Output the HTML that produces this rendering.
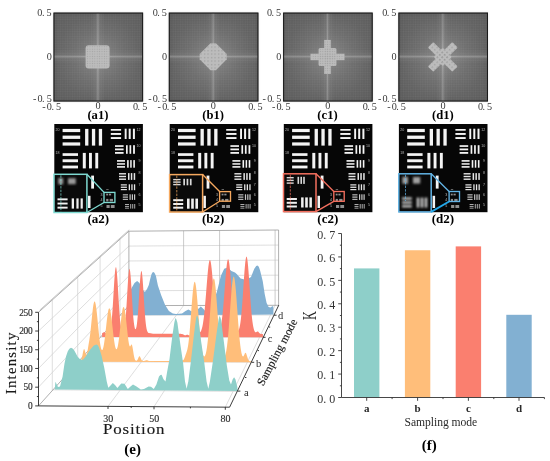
<!DOCTYPE html>
<html><head><meta charset="utf-8"><title>Figure</title>
<style>
html,body{margin:0;padding:0;background:#fff;}
body{width:550px;height:461px;overflow:hidden;}
svg{display:block;font-family:"Liberation Serif",serif;}
</style></head><body>
<svg width="550" height="461" viewBox="0 0 550 461">
<rect width="550" height="461" fill="#fff"/>
<defs>
<radialGradient id="bg" cx="50%" cy="50%" r="72%">
<stop offset="0" stop-color="#878787"/><stop offset="0.2" stop-color="#7a7a7a"/><stop offset="0.4" stop-color="#6e6e6e"/><stop offset="0.65" stop-color="#636363"/><stop offset="1" stop-color="#5b5b5b"/>
</radialGradient>
<linearGradient id="hl" x1="0" x2="1" y1="0" y2="0">
<stop offset="0" stop-color="#a0a0a0" stop-opacity="0.2"/><stop offset="0.3" stop-color="#b0b0b0" stop-opacity="0.42"/><stop offset="0.5" stop-color="#c8c8c8" stop-opacity="0.8"/><stop offset="0.7" stop-color="#b0b0b0" stop-opacity="0.42"/><stop offset="1" stop-color="#a0a0a0" stop-opacity="0.2"/>
</linearGradient>
<linearGradient id="vl" x1="0" x2="0" y1="0" y2="1">
<stop offset="0" stop-color="#a0a0a0" stop-opacity="0.2"/><stop offset="0.3" stop-color="#b0b0b0" stop-opacity="0.42"/><stop offset="0.5" stop-color="#c8c8c8" stop-opacity="0.8"/><stop offset="0.7" stop-color="#b0b0b0" stop-opacity="0.42"/><stop offset="1" stop-color="#a0a0a0" stop-opacity="0.2"/>
</linearGradient>
<linearGradient id="hg" x1="0" x2="0" y1="0" y2="1">
<stop offset="0" stop-color="#a0a0a0" stop-opacity="0"/><stop offset="0.5" stop-color="#a0a0a0" stop-opacity="0.4"/><stop offset="1" stop-color="#a0a0a0" stop-opacity="0"/>
</linearGradient>
<linearGradient id="vg" x1="0" x2="1" y1="0" y2="0">
<stop offset="0" stop-color="#a0a0a0" stop-opacity="0"/><stop offset="0.5" stop-color="#a0a0a0" stop-opacity="0.4"/><stop offset="1" stop-color="#a0a0a0" stop-opacity="0"/>
</linearGradient>
<pattern id="tex" x="0" y="0" width="2.4" height="2.4" patternUnits="userSpaceOnUse">
<rect x="0" y="0" width="2.4" height="0.8" fill="#fff" opacity="0.03"/><rect x="0" y="0" width="0.8" height="2.4" fill="#fff" opacity="0.03"/>
</pattern>
<pattern id="dots" x="0" y="0" width="2.4" height="2.4" patternUnits="userSpaceOnUse">
<rect x="0.7" y="0.7" width="1" height="1" fill="#969696"/>
</pattern>
<pattern id="dots2" x="0" y="0" width="3.5" height="3.5" patternUnits="userSpaceOnUse">
<rect x="1.0" y="1.0" width="1.2" height="1.2" fill="#888"/>
</pattern>
<filter id="blur1" x="-20%" y="-20%" width="140%" height="140%"><feGaussianBlur stdDeviation="0.45"/></filter>
<filter id="blur2" x="-20%" y="-20%" width="140%" height="140%"><feGaussianBlur stdDeviation="0.8"/></filter>
<filter id="blur3" x="-5%" y="-5%" width="110%" height="110%"><feGaussianBlur stdDeviation="0.3"/></filter>
</defs>
<g>
<rect x="53.50" y="12.60" width="89.60" height="88.90" fill="url(#bg)"/>
<rect x="53.50" y="12.60" width="89.60" height="88.90" fill="url(#tex)"/>
<rect x="54.50" y="13.60" width="87.60" height="86.90" fill="none" stroke="#3c3c3c" stroke-width="2" opacity="0.15" filter="url(#blur2)"/>
<rect x="53.50" y="49.65" width="89.60" height="14" fill="url(#hg)" opacity="0.5"/>
<rect x="90.90" y="12.60" width="14" height="88.90" fill="url(#vg)" opacity="0.5"/>
<rect x="53.50" y="54.65" width="89.60" height="4" fill="url(#hg)"/>
<rect x="95.90" y="12.60" width="4" height="88.90" fill="url(#vg)"/>
<rect x="53.50" y="56.15" width="89.60" height="1" fill="url(#hl)"/>
<rect x="97.40" y="12.60" width="1" height="88.90" fill="url(#vl)"/>
<g fill="#bcbcbc" filter="url(#blur3)"><rect x="85.60" y="45.25" width="24.0" height="23.2" rx="3.2" ry="3.2"/></g>
<g fill="url(#dots)" opacity="0.65"><rect x="85.60" y="45.25" width="24.0" height="23.2" rx="3.2" ry="3.2"/></g>
<rect x="54.00" y="13.10" width="88.60" height="87.90" fill="none" stroke="#1a1a1a" stroke-width="1"/>
<text x="37.35 41.90 46.45" y="15.90" font-size="10.20" fill="#383838" >0.5</text>
<text x="46.65" y="60.15" font-size="10.20" fill="#383838" >0</text>
<text x="33.00 37.55 42.10 46.65" y="102.10" font-size="10.20" fill="#383838" >-0.5</text>
<text x="42.30 46.85 51.40 55.95" y="110.00" font-size="10.20" fill="#383838" >-0.5</text>
<text x="95.52" y="108.90" font-size="10.20" fill="#383838" >0</text>
<text x="133.05 137.60 142.15" y="110.00" font-size="10.20" fill="#383838" >0.5</text>
<text x="97.90" y="118.7" font-size="12.6" font-weight="bold" fill="#000" text-anchor="middle">(a1)</text>
</g>
<g>
<rect x="168.80" y="12.60" width="89.60" height="88.90" fill="url(#bg)"/>
<rect x="168.80" y="12.60" width="89.60" height="88.90" fill="url(#tex)"/>
<rect x="169.80" y="13.60" width="87.60" height="86.90" fill="none" stroke="#3c3c3c" stroke-width="2" opacity="0.15" filter="url(#blur2)"/>
<rect x="168.80" y="49.65" width="89.60" height="14" fill="url(#hg)" opacity="0.5"/>
<rect x="206.20" y="12.60" width="14" height="88.90" fill="url(#vg)" opacity="0.5"/>
<rect x="168.80" y="54.65" width="89.60" height="4" fill="url(#hg)"/>
<rect x="211.20" y="12.60" width="4" height="88.90" fill="url(#vg)"/>
<rect x="168.80" y="56.15" width="89.60" height="1" fill="url(#hl)"/>
<rect x="212.70" y="12.60" width="1" height="88.90" fill="url(#vl)"/>
<g fill="#bcbcbc" filter="url(#blur3)"><polygon points="199.70,53.95 210.50,43.15 215.90,43.15 226.70,53.95 226.70,59.35 215.90,70.15 210.50,70.15 199.70,59.35"/></g>
<g fill="url(#dots2)" opacity="0.65"><polygon points="199.70,53.95 210.50,43.15 215.90,43.15 226.70,53.95 226.70,59.35 215.90,70.15 210.50,70.15 199.70,59.35"/></g>
<rect x="169.30" y="13.10" width="88.60" height="87.90" fill="none" stroke="#1a1a1a" stroke-width="1"/>
<text x="152.65 157.20 161.75" y="15.90" font-size="10.20" fill="#383838" >0.5</text>
<text x="161.95" y="60.15" font-size="10.20" fill="#383838" >0</text>
<text x="148.30 152.85 157.40 161.95" y="102.10" font-size="10.20" fill="#383838" >-0.5</text>
<text x="157.60 162.15 166.70 171.25" y="110.00" font-size="10.20" fill="#383838" >-0.5</text>
<text x="210.83" y="108.90" font-size="10.20" fill="#383838" >0</text>
<text x="248.35 252.90 257.45" y="110.00" font-size="10.20" fill="#383838" >0.5</text>
<text x="213.20" y="118.7" font-size="12.6" font-weight="bold" fill="#000" text-anchor="middle">(b1)</text>
</g>
<g>
<rect x="283.10" y="12.60" width="89.60" height="88.90" fill="url(#bg)"/>
<rect x="283.10" y="12.60" width="89.60" height="88.90" fill="url(#tex)"/>
<rect x="284.10" y="13.60" width="87.60" height="86.90" fill="none" stroke="#3c3c3c" stroke-width="2" opacity="0.15" filter="url(#blur2)"/>
<rect x="283.10" y="49.65" width="89.60" height="14" fill="url(#hg)" opacity="0.5"/>
<rect x="320.50" y="12.60" width="14" height="88.90" fill="url(#vg)" opacity="0.5"/>
<rect x="283.10" y="54.65" width="89.60" height="4" fill="url(#hg)"/>
<rect x="325.50" y="12.60" width="4" height="88.90" fill="url(#vg)"/>
<rect x="283.10" y="56.15" width="89.60" height="1" fill="url(#hl)"/>
<rect x="327.00" y="12.60" width="1" height="88.90" fill="url(#vl)"/>
<g fill="#bcbcbc" filter="url(#blur3)"><rect x="324.20" y="39.95" width="6.6" height="34"/><rect x="310.50" y="53.75" width="34" height="6.4"/><rect x="318.60" y="47.95" width="17.8" height="18" rx="1.5"/></g>
<g fill="url(#dots)" opacity="0.65"><rect x="324.20" y="39.95" width="6.6" height="34"/><rect x="310.50" y="53.75" width="34" height="6.4"/><rect x="318.60" y="47.95" width="17.8" height="18" rx="1.5"/></g>
<rect x="283.60" y="13.10" width="88.60" height="87.90" fill="none" stroke="#1a1a1a" stroke-width="1"/>
<text x="266.95 271.50 276.05" y="15.90" font-size="10.20" fill="#383838" >0.5</text>
<text x="276.25" y="60.15" font-size="10.20" fill="#383838" >0</text>
<text x="262.60 267.15 271.70 276.25" y="102.10" font-size="10.20" fill="#383838" >-0.5</text>
<text x="271.90 276.45 281.00 285.55" y="110.00" font-size="10.20" fill="#383838" >-0.5</text>
<text x="325.13" y="108.90" font-size="10.20" fill="#383838" >0</text>
<text x="362.65 367.20 371.75" y="110.00" font-size="10.20" fill="#383838" >0.5</text>
<text x="327.50" y="118.7" font-size="12.6" font-weight="bold" fill="#000" text-anchor="middle">(c1)</text>
</g>
<g>
<rect x="398.40" y="12.60" width="89.60" height="88.90" fill="url(#bg)"/>
<rect x="398.40" y="12.60" width="89.60" height="88.90" fill="url(#tex)"/>
<rect x="399.40" y="13.60" width="87.60" height="86.90" fill="none" stroke="#3c3c3c" stroke-width="2" opacity="0.15" filter="url(#blur2)"/>
<rect x="398.40" y="49.65" width="89.60" height="14" fill="url(#hg)" opacity="0.5"/>
<rect x="435.80" y="12.60" width="14" height="88.90" fill="url(#vg)" opacity="0.5"/>
<rect x="398.40" y="54.65" width="89.60" height="4" fill="url(#hg)"/>
<rect x="440.80" y="12.60" width="4" height="88.90" fill="url(#vg)"/>
<rect x="398.40" y="56.15" width="89.60" height="1" fill="url(#hl)"/>
<rect x="442.30" y="12.60" width="1" height="88.90" fill="url(#vl)"/>
<g fill="#bcbcbc" filter="url(#blur3)"><g transform="rotate(45 442.80 56.95)"><rect x="439.00" y="39.75" width="7.6" height="34.4" rx="1"/><rect x="425.60" y="53.15" width="34.4" height="7.6" rx="1"/><rect x="436.30" y="50.45" width="13" height="13" rx="1.5"/></g></g>
<g fill="url(#dots2)" opacity="0.65"><g transform="rotate(45 442.80 56.95)"><rect x="439.00" y="39.75" width="7.6" height="34.4" rx="1"/><rect x="425.60" y="53.15" width="34.4" height="7.6" rx="1"/><rect x="436.30" y="50.45" width="13" height="13" rx="1.5"/></g></g>
<rect x="398.90" y="13.10" width="88.60" height="87.90" fill="none" stroke="#1a1a1a" stroke-width="1"/>
<text x="382.25 386.80 391.35" y="15.90" font-size="10.20" fill="#383838" >0.5</text>
<text x="391.55" y="60.15" font-size="10.20" fill="#383838" >0</text>
<text x="377.90 382.45 387.00 391.55" y="102.10" font-size="10.20" fill="#383838" >-0.5</text>
<text x="387.20 391.75 396.30 400.85" y="110.00" font-size="10.20" fill="#383838" >-0.5</text>
<text x="440.43" y="108.90" font-size="10.20" fill="#383838" >0</text>
<text x="477.95 482.50 487.05" y="110.00" font-size="10.20" fill="#383838" >0.5</text>
<text x="442.80" y="118.7" font-size="12.6" font-weight="bold" fill="#000" text-anchor="middle">(d1)</text>
</g>
<g transform="translate(0.00 0)"><rect x="54.3" y="124" width="88.6" height="88.2" fill="#060606"/><g fill="#f4f4f4" filter="url(#blur3)"><rect x="62.60" y="128.90" width="17.60" height="3.20"/><rect x="62.60" y="135.60" width="17.60" height="3.30"/><rect x="62.60" y="142.40" width="17.60" height="3.20"/><rect x="85.10" y="128.90" width="3.30" height="16.70"/><rect x="91.90" y="128.90" width="3.30" height="16.70"/><rect x="98.80" y="128.90" width="3.30" height="16.70"/><rect x="62.60" y="153.20" width="15.40" height="2.70"/><rect x="62.60" y="159.30" width="15.40" height="2.90"/><rect x="62.60" y="165.60" width="15.40" height="2.80"/><rect x="82.80" y="152.90" width="3.00" height="15.50"/><rect x="89.00" y="152.90" width="2.90" height="15.50"/><rect x="95.30" y="152.90" width="2.90" height="15.50"/><rect x="91.20" y="175.60" width="2.80" height="13.00"/><rect x="88.00" y="195.80" width="2.50" height="12.20"/><rect x="110.80" y="129.00" width="10.30" height="1.70"/><rect x="110.80" y="133.00" width="10.30" height="1.90"/><rect x="110.80" y="137.10" width="10.30" height="1.90"/><rect x="124.70" y="128.70" width="1.90" height="10.30"/><rect x="128.70" y="128.70" width="2.00" height="10.30"/><rect x="132.90" y="128.70" width="2.00" height="10.30"/><rect x="115.00" y="145.20" width="8.60" height="1.70"/><rect x="115.00" y="148.50" width="8.60" height="1.80"/><rect x="115.00" y="152.00" width="8.60" height="1.80"/><rect x="126.00" y="145.20" width="1.70" height="8.60"/><rect x="129.50" y="145.20" width="1.70" height="8.60"/><rect x="133.10" y="145.20" width="1.80" height="8.60"/><rect x="117.00" y="160.10" width="8.00" height="1.60"/><rect x="117.00" y="163.20" width="8.00" height="1.50"/><rect x="117.00" y="166.10" width="8.00" height="1.60"/><rect x="127.10" y="160.10" width="1.60" height="7.60"/><rect x="130.20" y="160.10" width="1.50" height="7.60"/><rect x="133.30" y="160.10" width="1.60" height="7.60"/></g><g fill="#e6e6e6" filter="url(#blur3)"><rect x="119.00" y="173.10" width="7.00" height="1.40"/><rect x="119.00" y="175.80" width="7.00" height="1.40"/><rect x="119.00" y="178.50" width="7.00" height="1.40"/><rect x="128.00" y="173.10" width="1.50" height="6.80"/><rect x="130.80" y="173.10" width="1.50" height="6.80"/><rect x="133.70" y="173.10" width="1.50" height="6.80"/><rect x="120.80" y="184.30" width="6.10" height="1.20"/><rect x="120.80" y="186.60" width="6.10" height="1.30"/><rect x="120.80" y="189.00" width="6.10" height="1.20"/><rect x="128.70" y="184.30" width="1.30" height="5.90"/><rect x="131.30" y="184.30" width="1.30" height="5.90"/><rect x="133.90" y="184.30" width="1.30" height="5.90"/></g><g fill="#c8c8c8" filter="url(#blur3)"><rect x="122.80" y="194.30" width="5.20" height="1.10"/><rect x="122.80" y="196.50" width="5.20" height="1.20"/><rect x="122.80" y="198.80" width="5.20" height="1.10"/><rect x="129.50" y="194.30" width="1.20" height="5.60"/><rect x="131.80" y="194.30" width="1.20" height="5.60"/><rect x="134.00" y="194.30" width="1.20" height="5.60"/></g><g fill="#acacac" filter="url(#blur3)"><rect x="125.00" y="204.00" width="4.00" height="1.00"/><rect x="125.00" y="205.90" width="4.00" height="1.00"/><rect x="125.00" y="207.70" width="4.00" height="0.90"/><rect x="130.20" y="204.00" width="1.00" height="4.60"/><rect x="132.20" y="204.00" width="1.00" height="4.60"/><rect x="134.20" y="204.00" width="1.00" height="4.60"/></g><g fill="#8e8e8e" filter="url(#blur3)"><rect x="106.5" y="205.0" width="3.2" height="3"/><rect x="110.8" y="205.0" width="3.8" height="3"/><rect x="106.2" y="193.7" width="1.9" height="1.7"/><rect x="108.9" y="193.7" width="2.2" height="1.7"/><rect x="106.2" y="198.9" width="2.2" height="2.5"/><rect x="109.7" y="198.9" width="3.3" height="2.5"/><rect x="106.2" y="189" width="2.4" height="0.7"/></g><g fill="#b4b4b4" font-size="3.6" font-family="Liberation Sans, sans-serif" text-anchor="middle" filter="url(#blur3)"><text x="57.6" y="130.6">20</text><text x="57.6" y="154.4">18</text><text x="138.6" y="130.6">12</text><text x="138.6" y="147.2">10</text><text x="139.4" y="161.6">9</text><text x="139.4" y="174.4">8</text><text x="139.4" y="185.6">7</text><text x="139.4" y="196.2">6</text><text x="139.4" y="205.8">5</text><text x="101.6" y="195.6">3</text><text x="101.6" y="200.6">4</text><text x="101.6" y="206.6">5</text></g><rect x="54.00" y="174.30" width="32.90" height="38.20" fill="#0a0a0a"/><g fill="#9a9a9a" filter="url(#blur2)"><rect x="58.2" y="178" width="5" height="6.4"/><rect x="68" y="178.2" width="7.8" height="6"/></g><g fill="#f0f0f0" filter="url(#blur1)"><rect x="57.50" y="198.40" width="10.10" height="1.90"/><rect x="57.50" y="202.60" width="10.10" height="1.90"/><rect x="57.50" y="206.70" width="10.10" height="1.90"/><rect x="71.70" y="198.40" width="2.30" height="10.20"/><rect x="76.40" y="198.40" width="2.20" height="10.20"/><rect x="80.60" y="198.40" width="2.20" height="10.20"/></g><line x1="60.90" y1="175.30" x2="60.90" y2="211.50" stroke="#7FDAD2" stroke-width="0.8" stroke-dasharray="2.4 1.2" opacity="0.9"/><rect x="54.00" y="174.30" width="32.90" height="38.20" fill="none" stroke="#7FDAD2" stroke-width="1.50"/><rect x="104.00" y="192.40" width="10.90" height="10.10" fill="none" stroke="#7FDAD2" stroke-width="1.35"/><path d="M86.90 174.30 L104.00 192.40" stroke="#7FDAD2" stroke-width="1.35" fill="none"/><path d="M86.90 212.50 L104.00 202.50" stroke="#7FDAD2" stroke-width="1.35" fill="none"/><text x="98.30" y="223.4" font-size="13" font-weight="bold" fill="#000" text-anchor="middle">(a2)</text></g>
<g transform="translate(115.40 0)"><rect x="54.3" y="124" width="88.6" height="88.2" fill="#060606"/><g fill="#f4f4f4" filter="url(#blur3)"><rect x="62.60" y="128.90" width="17.60" height="3.20"/><rect x="62.60" y="135.60" width="17.60" height="3.30"/><rect x="62.60" y="142.40" width="17.60" height="3.20"/><rect x="85.10" y="128.90" width="3.30" height="16.70"/><rect x="91.90" y="128.90" width="3.30" height="16.70"/><rect x="98.80" y="128.90" width="3.30" height="16.70"/><rect x="62.60" y="153.20" width="15.40" height="2.70"/><rect x="62.60" y="159.30" width="15.40" height="2.90"/><rect x="62.60" y="165.60" width="15.40" height="2.80"/><rect x="82.80" y="152.90" width="3.00" height="15.50"/><rect x="89.00" y="152.90" width="2.90" height="15.50"/><rect x="95.30" y="152.90" width="2.90" height="15.50"/><rect x="91.20" y="175.60" width="2.80" height="13.00"/><rect x="88.00" y="195.80" width="2.50" height="12.20"/><rect x="110.80" y="129.00" width="10.30" height="1.70"/><rect x="110.80" y="133.00" width="10.30" height="1.90"/><rect x="110.80" y="137.10" width="10.30" height="1.90"/><rect x="124.70" y="128.70" width="1.90" height="10.30"/><rect x="128.70" y="128.70" width="2.00" height="10.30"/><rect x="132.90" y="128.70" width="2.00" height="10.30"/><rect x="115.00" y="145.20" width="8.60" height="1.70"/><rect x="115.00" y="148.50" width="8.60" height="1.80"/><rect x="115.00" y="152.00" width="8.60" height="1.80"/><rect x="126.00" y="145.20" width="1.70" height="8.60"/><rect x="129.50" y="145.20" width="1.70" height="8.60"/><rect x="133.10" y="145.20" width="1.80" height="8.60"/><rect x="117.00" y="160.10" width="8.00" height="1.60"/><rect x="117.00" y="163.20" width="8.00" height="1.50"/><rect x="117.00" y="166.10" width="8.00" height="1.60"/><rect x="127.10" y="160.10" width="1.60" height="7.60"/><rect x="130.20" y="160.10" width="1.50" height="7.60"/><rect x="133.30" y="160.10" width="1.60" height="7.60"/></g><g fill="#e6e6e6" filter="url(#blur3)"><rect x="119.00" y="173.10" width="7.00" height="1.40"/><rect x="119.00" y="175.80" width="7.00" height="1.40"/><rect x="119.00" y="178.50" width="7.00" height="1.40"/><rect x="128.00" y="173.10" width="1.50" height="6.80"/><rect x="130.80" y="173.10" width="1.50" height="6.80"/><rect x="133.70" y="173.10" width="1.50" height="6.80"/><rect x="120.80" y="184.30" width="6.10" height="1.20"/><rect x="120.80" y="186.60" width="6.10" height="1.30"/><rect x="120.80" y="189.00" width="6.10" height="1.20"/><rect x="128.70" y="184.30" width="1.30" height="5.90"/><rect x="131.30" y="184.30" width="1.30" height="5.90"/><rect x="133.90" y="184.30" width="1.30" height="5.90"/></g><g fill="#c8c8c8" filter="url(#blur3)"><rect x="122.80" y="194.30" width="5.20" height="1.10"/><rect x="122.80" y="196.50" width="5.20" height="1.20"/><rect x="122.80" y="198.80" width="5.20" height="1.10"/><rect x="129.50" y="194.30" width="1.20" height="5.60"/><rect x="131.80" y="194.30" width="1.20" height="5.60"/><rect x="134.00" y="194.30" width="1.20" height="5.60"/></g><g fill="#acacac" filter="url(#blur3)"><rect x="125.00" y="204.00" width="4.00" height="1.00"/><rect x="125.00" y="205.90" width="4.00" height="1.00"/><rect x="125.00" y="207.70" width="4.00" height="0.90"/><rect x="130.20" y="204.00" width="1.00" height="4.60"/><rect x="132.20" y="204.00" width="1.00" height="4.60"/><rect x="134.20" y="204.00" width="1.00" height="4.60"/></g><g fill="#8e8e8e" filter="url(#blur3)"><rect x="106.5" y="205.0" width="3.2" height="3"/><rect x="110.8" y="205.0" width="3.8" height="3"/><rect x="106.2" y="193.7" width="1.9" height="1.7"/><rect x="108.9" y="193.7" width="2.2" height="1.7"/><rect x="106.2" y="198.9" width="2.2" height="2.5"/><rect x="109.7" y="198.9" width="3.3" height="2.5"/><rect x="106.2" y="189" width="2.4" height="0.7"/></g><g fill="#b4b4b4" font-size="3.6" font-family="Liberation Sans, sans-serif" text-anchor="middle" filter="url(#blur3)"><text x="57.6" y="130.6">20</text><text x="57.6" y="154.4">18</text><text x="138.6" y="130.6">12</text><text x="138.6" y="147.2">10</text><text x="139.4" y="161.6">9</text><text x="139.4" y="174.4">8</text><text x="139.4" y="185.6">7</text><text x="139.4" y="196.2">6</text><text x="139.4" y="205.8">5</text><text x="101.6" y="195.6">3</text><text x="101.6" y="200.6">4</text><text x="101.6" y="206.6">5</text></g><rect x="54.20" y="174.60" width="33.00" height="37.40" fill="#0a0a0a"/><g fill="#d8d8d8" filter="url(#blur1)"><rect x="57.80" y="178.90" width="7.40" height="1.40"/><rect x="57.80" y="181.40" width="7.40" height="1.40"/><rect x="57.80" y="183.90" width="7.40" height="1.40"/><rect x="67.90" y="178.80" width="1.70" height="6.50"/><rect x="71.20" y="178.80" width="1.70" height="6.50"/><rect x="74.50" y="178.80" width="1.70" height="6.50"/></g><g fill="#f0f0f0" filter="url(#blur1)"><rect x="57.80" y="199.20" width="10.00" height="2.00"/><rect x="57.80" y="203.00" width="10.00" height="2.00"/><rect x="57.80" y="206.70" width="10.00" height="2.00"/><rect x="71.60" y="198.60" width="2.60" height="10.10"/><rect x="75.80" y="198.60" width="2.60" height="10.10"/><rect x="80.00" y="198.60" width="2.60" height="10.10"/></g><line x1="61.40" y1="175.60" x2="61.40" y2="211.00" stroke="#F6A95F" stroke-width="0.8" stroke-dasharray="2.4 1.2" opacity="0.9"/><rect x="54.20" y="174.60" width="33.00" height="37.40" fill="none" stroke="#F6A95F" stroke-width="1.50"/><rect x="104.20" y="191.60" width="10.90" height="9.60" fill="none" stroke="#F6A95F" stroke-width="1.35"/><path d="M87.20 174.60 L104.20 191.60" stroke="#F6A95F" stroke-width="1.35" fill="none"/><path d="M87.20 212.00 L104.20 201.20" stroke="#F6A95F" stroke-width="1.35" fill="none"/><text x="97.70" y="223.4" font-size="13" font-weight="bold" fill="#000" text-anchor="middle">(b2)</text></g>
<g transform="translate(229.50 0)"><rect x="54.3" y="124" width="88.6" height="88.2" fill="#060606"/><g fill="#f4f4f4" filter="url(#blur3)"><rect x="62.60" y="128.90" width="17.60" height="3.20"/><rect x="62.60" y="135.60" width="17.60" height="3.30"/><rect x="62.60" y="142.40" width="17.60" height="3.20"/><rect x="85.10" y="128.90" width="3.30" height="16.70"/><rect x="91.90" y="128.90" width="3.30" height="16.70"/><rect x="98.80" y="128.90" width="3.30" height="16.70"/><rect x="62.60" y="153.20" width="15.40" height="2.70"/><rect x="62.60" y="159.30" width="15.40" height="2.90"/><rect x="62.60" y="165.60" width="15.40" height="2.80"/><rect x="82.80" y="152.90" width="3.00" height="15.50"/><rect x="89.00" y="152.90" width="2.90" height="15.50"/><rect x="95.30" y="152.90" width="2.90" height="15.50"/><rect x="91.20" y="175.60" width="2.80" height="13.00"/><rect x="88.00" y="195.80" width="2.50" height="12.20"/><rect x="110.80" y="129.00" width="10.30" height="1.70"/><rect x="110.80" y="133.00" width="10.30" height="1.90"/><rect x="110.80" y="137.10" width="10.30" height="1.90"/><rect x="124.70" y="128.70" width="1.90" height="10.30"/><rect x="128.70" y="128.70" width="2.00" height="10.30"/><rect x="132.90" y="128.70" width="2.00" height="10.30"/><rect x="115.00" y="145.20" width="8.60" height="1.70"/><rect x="115.00" y="148.50" width="8.60" height="1.80"/><rect x="115.00" y="152.00" width="8.60" height="1.80"/><rect x="126.00" y="145.20" width="1.70" height="8.60"/><rect x="129.50" y="145.20" width="1.70" height="8.60"/><rect x="133.10" y="145.20" width="1.80" height="8.60"/><rect x="117.00" y="160.10" width="8.00" height="1.60"/><rect x="117.00" y="163.20" width="8.00" height="1.50"/><rect x="117.00" y="166.10" width="8.00" height="1.60"/><rect x="127.10" y="160.10" width="1.60" height="7.60"/><rect x="130.20" y="160.10" width="1.50" height="7.60"/><rect x="133.30" y="160.10" width="1.60" height="7.60"/></g><g fill="#e6e6e6" filter="url(#blur3)"><rect x="119.00" y="173.10" width="7.00" height="1.40"/><rect x="119.00" y="175.80" width="7.00" height="1.40"/><rect x="119.00" y="178.50" width="7.00" height="1.40"/><rect x="128.00" y="173.10" width="1.50" height="6.80"/><rect x="130.80" y="173.10" width="1.50" height="6.80"/><rect x="133.70" y="173.10" width="1.50" height="6.80"/><rect x="120.80" y="184.30" width="6.10" height="1.20"/><rect x="120.80" y="186.60" width="6.10" height="1.30"/><rect x="120.80" y="189.00" width="6.10" height="1.20"/><rect x="128.70" y="184.30" width="1.30" height="5.90"/><rect x="131.30" y="184.30" width="1.30" height="5.90"/><rect x="133.90" y="184.30" width="1.30" height="5.90"/></g><g fill="#c8c8c8" filter="url(#blur3)"><rect x="122.80" y="194.30" width="5.20" height="1.10"/><rect x="122.80" y="196.50" width="5.20" height="1.20"/><rect x="122.80" y="198.80" width="5.20" height="1.10"/><rect x="129.50" y="194.30" width="1.20" height="5.60"/><rect x="131.80" y="194.30" width="1.20" height="5.60"/><rect x="134.00" y="194.30" width="1.20" height="5.60"/></g><g fill="#acacac" filter="url(#blur3)"><rect x="125.00" y="204.00" width="4.00" height="1.00"/><rect x="125.00" y="205.90" width="4.00" height="1.00"/><rect x="125.00" y="207.70" width="4.00" height="0.90"/><rect x="130.20" y="204.00" width="1.00" height="4.60"/><rect x="132.20" y="204.00" width="1.00" height="4.60"/><rect x="134.20" y="204.00" width="1.00" height="4.60"/></g><g fill="#8e8e8e" filter="url(#blur3)"><rect x="106.5" y="205.0" width="3.2" height="3"/><rect x="110.8" y="205.0" width="3.8" height="3"/><rect x="106.2" y="193.7" width="1.9" height="1.7"/><rect x="108.9" y="193.7" width="2.2" height="1.7"/><rect x="106.2" y="198.9" width="2.2" height="2.5"/><rect x="109.7" y="198.9" width="3.3" height="2.5"/><rect x="106.2" y="189" width="2.4" height="0.7"/></g><g fill="#b4b4b4" font-size="3.6" font-family="Liberation Sans, sans-serif" text-anchor="middle" filter="url(#blur3)"><text x="57.6" y="130.6">20</text><text x="57.6" y="154.4">18</text><text x="138.6" y="130.6">12</text><text x="138.6" y="147.2">10</text><text x="139.4" y="161.6">9</text><text x="139.4" y="174.4">8</text><text x="139.4" y="185.6">7</text><text x="139.4" y="196.2">6</text><text x="139.4" y="205.8">5</text><text x="101.6" y="195.6">3</text><text x="101.6" y="200.6">4</text><text x="101.6" y="206.6">5</text></g><rect x="54.00" y="173.80" width="32.50" height="37.80" fill="#0a0a0a"/><g fill="#d8d8d8" filter="url(#blur1)"><rect x="57.20" y="177.00" width="7.00" height="1.40"/><rect x="57.20" y="179.70" width="7.00" height="1.40"/><rect x="57.20" y="182.40" width="7.00" height="1.40"/><rect x="68.00" y="176.80" width="1.60" height="7.10"/><rect x="70.90" y="176.80" width="1.60" height="7.10"/><rect x="73.70" y="176.80" width="1.60" height="7.10"/></g><g fill="#f0f0f0" filter="url(#blur1)"><rect x="57.20" y="198.00" width="10.20" height="2.00"/><rect x="57.20" y="201.80" width="10.20" height="2.00"/><rect x="57.20" y="205.50" width="10.20" height="2.00"/><rect x="71.60" y="197.40" width="2.50" height="10.10"/><rect x="75.70" y="197.40" width="2.60" height="10.10"/><rect x="79.90" y="197.40" width="2.50" height="10.10"/></g><line x1="60.80" y1="174.80" x2="60.80" y2="210.60" stroke="#F4705F" stroke-width="0.8" stroke-dasharray="2.4 1.2" opacity="0.9"/><rect x="54.00" y="173.80" width="32.50" height="37.80" fill="none" stroke="#F4705F" stroke-width="1.50"/><rect x="104.30" y="191.50" width="10.40" height="9.80" fill="none" stroke="#F4705F" stroke-width="1.35"/><path d="M86.50 173.80 L104.30 191.50" stroke="#F4705F" stroke-width="1.35" fill="none"/><path d="M86.50 211.60 L104.30 201.30" stroke="#F4705F" stroke-width="1.35" fill="none"/><text x="98.30" y="223.4" font-size="13" font-weight="bold" fill="#000" text-anchor="middle">(c2)</text></g>
<g transform="translate(344.60 0)"><rect x="54.3" y="124" width="88.6" height="88.2" fill="#060606"/><g fill="#f4f4f4" filter="url(#blur3)"><rect x="62.60" y="128.90" width="17.60" height="3.20"/><rect x="62.60" y="135.60" width="17.60" height="3.30"/><rect x="62.60" y="142.40" width="17.60" height="3.20"/><rect x="85.10" y="128.90" width="3.30" height="16.70"/><rect x="91.90" y="128.90" width="3.30" height="16.70"/><rect x="98.80" y="128.90" width="3.30" height="16.70"/><rect x="62.60" y="153.20" width="15.40" height="2.70"/><rect x="62.60" y="159.30" width="15.40" height="2.90"/><rect x="62.60" y="165.60" width="15.40" height="2.80"/><rect x="82.80" y="152.90" width="3.00" height="15.50"/><rect x="89.00" y="152.90" width="2.90" height="15.50"/><rect x="95.30" y="152.90" width="2.90" height="15.50"/><rect x="91.20" y="175.60" width="2.80" height="13.00"/><rect x="88.00" y="195.80" width="2.50" height="12.20"/><rect x="110.80" y="129.00" width="10.30" height="1.70"/><rect x="110.80" y="133.00" width="10.30" height="1.90"/><rect x="110.80" y="137.10" width="10.30" height="1.90"/><rect x="124.70" y="128.70" width="1.90" height="10.30"/><rect x="128.70" y="128.70" width="2.00" height="10.30"/><rect x="132.90" y="128.70" width="2.00" height="10.30"/><rect x="115.00" y="145.20" width="8.60" height="1.70"/><rect x="115.00" y="148.50" width="8.60" height="1.80"/><rect x="115.00" y="152.00" width="8.60" height="1.80"/><rect x="126.00" y="145.20" width="1.70" height="8.60"/><rect x="129.50" y="145.20" width="1.70" height="8.60"/><rect x="133.10" y="145.20" width="1.80" height="8.60"/><rect x="117.00" y="160.10" width="8.00" height="1.60"/><rect x="117.00" y="163.20" width="8.00" height="1.50"/><rect x="117.00" y="166.10" width="8.00" height="1.60"/><rect x="127.10" y="160.10" width="1.60" height="7.60"/><rect x="130.20" y="160.10" width="1.50" height="7.60"/><rect x="133.30" y="160.10" width="1.60" height="7.60"/></g><g fill="#e6e6e6" filter="url(#blur3)"><rect x="119.00" y="173.10" width="7.00" height="1.40"/><rect x="119.00" y="175.80" width="7.00" height="1.40"/><rect x="119.00" y="178.50" width="7.00" height="1.40"/><rect x="128.00" y="173.10" width="1.50" height="6.80"/><rect x="130.80" y="173.10" width="1.50" height="6.80"/><rect x="133.70" y="173.10" width="1.50" height="6.80"/><rect x="120.80" y="184.30" width="6.10" height="1.20"/><rect x="120.80" y="186.60" width="6.10" height="1.30"/><rect x="120.80" y="189.00" width="6.10" height="1.20"/><rect x="128.70" y="184.30" width="1.30" height="5.90"/><rect x="131.30" y="184.30" width="1.30" height="5.90"/><rect x="133.90" y="184.30" width="1.30" height="5.90"/></g><g fill="#c8c8c8" filter="url(#blur3)"><rect x="122.80" y="194.30" width="5.20" height="1.10"/><rect x="122.80" y="196.50" width="5.20" height="1.20"/><rect x="122.80" y="198.80" width="5.20" height="1.10"/><rect x="129.50" y="194.30" width="1.20" height="5.60"/><rect x="131.80" y="194.30" width="1.20" height="5.60"/><rect x="134.00" y="194.30" width="1.20" height="5.60"/></g><g fill="#acacac" filter="url(#blur3)"><rect x="125.00" y="204.00" width="4.00" height="1.00"/><rect x="125.00" y="205.90" width="4.00" height="1.00"/><rect x="125.00" y="207.70" width="4.00" height="0.90"/><rect x="130.20" y="204.00" width="1.00" height="4.60"/><rect x="132.20" y="204.00" width="1.00" height="4.60"/><rect x="134.20" y="204.00" width="1.00" height="4.60"/></g><g fill="#8e8e8e" filter="url(#blur3)"><rect x="106.5" y="205.0" width="3.2" height="3"/><rect x="110.8" y="205.0" width="3.8" height="3"/><rect x="106.2" y="193.7" width="1.9" height="1.7"/><rect x="108.9" y="193.7" width="2.2" height="1.7"/><rect x="106.2" y="198.9" width="2.2" height="2.5"/><rect x="109.7" y="198.9" width="3.3" height="2.5"/><rect x="106.2" y="189" width="2.4" height="0.7"/></g><g fill="#b4b4b4" font-size="3.6" font-family="Liberation Sans, sans-serif" text-anchor="middle" filter="url(#blur3)"><text x="57.6" y="130.6">20</text><text x="57.6" y="154.4">18</text><text x="138.6" y="130.6">12</text><text x="138.6" y="147.2">10</text><text x="139.4" y="161.6">9</text><text x="139.4" y="174.4">8</text><text x="139.4" y="185.6">7</text><text x="139.4" y="196.2">6</text><text x="139.4" y="205.8">5</text><text x="101.6" y="195.6">3</text><text x="101.6" y="200.6">4</text><text x="101.6" y="206.6">5</text></g><rect x="54.20" y="173.80" width="32.40" height="38.10" fill="#0a0a0a"/><g fill="#a2a2a2" filter="url(#blur2)"><rect x="57.8" y="176.8" width="5.6" height="7"/><rect x="68.4" y="177" width="7.2" height="6.6"/></g><g fill="#d0d0d0" filter="url(#blur2)"><rect x="57.40" y="197.40" width="9.80" height="2.20"/><rect x="57.40" y="201.40" width="9.80" height="2.20"/><rect x="57.40" y="205.20" width="9.80" height="2.20"/><rect x="72.20" y="197.60" width="2.40" height="10.00"/><rect x="76.20" y="197.60" width="2.40" height="10.00"/><rect x="80.20" y="197.60" width="2.40" height="10.00"/></g><line x1="60.90" y1="174.80" x2="60.90" y2="201.00" stroke="#62B3E4" stroke-width="0.8" stroke-dasharray="2.4 1.2" opacity="0.9"/><rect x="54.20" y="173.80" width="32.40" height="38.10" fill="none" stroke="#62B3E4" stroke-width="1.50"/><rect x="104.50" y="191.50" width="10.40" height="10.00" fill="none" stroke="#62B3E4" stroke-width="1.35"/><path d="M86.60 173.80 L104.50 191.50" stroke="#62B3E4" stroke-width="1.35" fill="none"/><path d="M86.60 211.90 L104.50 201.50" stroke="#22A7E8" stroke-width="1.9" fill="none"/><text x="98.30" y="223.4" font-size="13" font-weight="bold" fill="#000" text-anchor="middle">(d2)</text></g>
<g>
<g fill="none" stroke-width="0.7">
<path d="M128.90 290.72 L278.60 290.24 M128.90 275.84 L278.60 275.18 M128.90 260.96 L278.60 260.12 M128.90 246.08 L278.60 245.06 M38.50 387.18 L128.90 290.72 M38.50 368.46 L128.90 275.84 M38.50 349.74 L128.90 260.96 M38.50 331.02 L128.90 246.08 M52.30 299.92 V390.59 M77.70 277.13 V362.41 M100.10 257.04 V337.55 M120.00 239.18 V315.47 M108.00 406.37 L183.60 305.50 M154.00 406.69 L219.60 305.50 M225.30 407.17 L275.10 305.50 M52.30 389.80 L238.00 391.40 M77.70 361.80 L251.60 362.20 M100.10 337.10 L263.00 337.30 M120.00 315.20 L274.00 315.00 " stroke="#d0d0d0"/>
<path d="M183.60 230.76 V305.50 M219.60 230.47 V305.50 M275.10 230.03 V305.50 " stroke="#b4b4b4"/>
<path d="M38.50 312.30 L128.90 231.20 L278.60 230.00 L278.60 305.30 M38.50 405.90 L128.90 305.60 L278.60 305.30 M128.90 231.20 L128.90 305.60" stroke="#9a9a9a" stroke-width="0.8"/>
<path d="M39.70 310.10 L129.20 229.80" stroke="#b5b5b5" stroke-width="0.7"/>
</g>
<path d="M127.60 315.20 L127.60 315.20 L128.20 306.00 L129.00 297.00 L130.20 291.00 L131.90 287.50 L134.50 283.00 L137.10 281.00 L139.50 283.00 L142.00 289.00 L144.90 292.10 L147.00 289.00 L148.80 284.90 L150.20 279.00 L151.40 274.50 L152.40 272.60 L153.30 271.90 L154.40 272.80 L155.90 275.80 L157.90 285.60 L161.20 295.30 L165.10 305.10 L168.90 311.00 L172.80 313.50 L176.00 314.00 L182.00 313.50 L185.50 311.00 L188.40 309.60 L191.00 311.00 L194.00 313.00 L197.00 310.00 L200.80 306.40 L203.50 309.00 L206.00 312.00 L210.00 311.00 L214.00 300.00 L217.00 291.40 L220.90 275.80 L224.20 268.70 L227.50 267.50 L231.40 270.90 L235.00 272.60 L236.70 273.90 L240.60 278.40 L242.60 279.10 L246.00 280.00 L251.00 277.10 L254.30 268.70 L256.20 266.00 L257.50 265.40 L258.80 266.80 L260.10 270.60 L262.70 281.00 L264.70 294.00 L266.60 303.10 L268.60 307.00 L270.50 307.50 L272.00 306.50 L273.10 306.00 L273.40 308.00 L273.40 314.60 L273.40 314.60 Z" fill="#82B0D2"/>
<path d="M102.10 337.00 L102.10 333.29 L102.50 333.06 L102.90 332.79 L103.30 332.52 L103.70 332.30 L104.10 332.20 L104.51 332.24 L104.91 332.41 L105.31 332.66 L105.71 332.93 L106.11 333.19 L106.51 333.38 L106.91 333.49 L107.31 333.54 L107.71 333.52 L108.11 333.42 L108.52 333.23 L108.92 332.90 L109.32 332.39 L109.72 331.61 L110.12 330.47 L110.52 328.86 L110.92 326.64 L111.32 323.70 L111.72 319.96 L112.12 315.36 L112.53 309.92 L112.93 303.75 L113.33 297.06 L113.73 290.18 L114.13 283.48 L114.53 277.41 L114.93 272.43 L115.33 268.91 L115.73 267.17 L116.13 267.33 L116.54 269.40 L116.94 273.19 L117.34 278.39 L117.74 284.60 L118.14 291.36 L118.54 298.24 L118.94 304.86 L119.34 310.91 L119.74 316.21 L120.14 320.66 L120.55 324.25 L120.95 327.02 L121.35 329.07 L121.75 330.50 L122.15 331.40 L122.55 331.84 L122.95 331.87 L123.35 331.47 L123.75 330.62 L124.15 329.23 L124.56 327.21 L124.96 324.46 L125.36 320.87 L125.76 316.41 L126.16 311.08 L126.56 304.99 L126.96 298.36 L127.36 291.50 L127.76 284.82 L128.16 278.78 L128.57 273.85 L128.97 270.42 L129.37 268.81 L129.77 269.14 L130.17 271.40 L130.57 275.38 L130.97 280.74 L131.37 287.05 L131.77 293.84 L132.17 300.66 L132.58 307.12 L132.98 312.93 L133.38 317.91 L133.78 321.97 L134.18 325.10 L134.58 327.31 L134.98 328.68 L135.38 329.24 L135.78 329.02 L136.18 328.00 L136.59 326.17 L136.99 323.46 L137.39 319.85 L137.79 315.34 L138.19 309.98 L138.59 303.92 L138.99 297.41 L139.39 290.80 L139.79 284.50 L140.19 278.96 L140.60 274.63 L141.00 271.86 L141.40 270.90 L141.80 271.84 L142.20 274.59 L142.60 278.91 L143.00 284.44 L143.40 290.74 L143.80 297.36 L144.20 303.89 L144.61 309.98 L145.01 315.39 L145.41 320.00 L145.81 323.76 L146.21 326.70 L146.61 328.91 L147.01 330.50 L147.41 331.59 L147.81 332.29 L148.21 332.72 L148.62 332.94 L149.02 333.05 L149.42 333.10 L149.82 333.13 L150.22 333.17 L150.62 333.23 L151.02 333.31 L151.42 333.41 L151.82 333.51 L152.22 333.60 L152.63 333.67 L153.03 333.72 L153.43 333.75 L153.83 333.77 L154.23 333.79 L154.63 333.79 L155.03 333.80 L155.43 333.80 L155.83 333.80 L156.23 333.80 L156.64 333.80 L157.04 333.80 L157.44 333.80 L157.84 333.80 L158.24 333.80 L158.64 333.81 L159.04 333.81 L159.44 333.81 L159.84 333.81 L160.24 333.81 L160.65 333.81 L161.05 333.81 L161.45 333.81 L161.85 333.81 L162.25 333.81 L162.65 333.81 L163.05 333.81 L163.45 333.81 L163.85 333.82 L164.25 333.82 L164.66 333.82 L165.06 333.82 L165.46 333.82 L165.86 333.82 L166.26 333.82 L166.66 333.82 L167.06 333.82 L167.46 333.82 L167.86 333.82 L168.26 333.82 L168.67 333.82 L169.07 333.82 L169.47 333.83 L169.87 333.83 L170.27 333.83 L170.67 333.83 L171.07 333.83 L171.47 333.83 L171.87 333.83 L172.27 333.83 L172.68 333.83 L173.08 333.83 L173.48 333.83 L173.88 333.83 L174.28 333.83 L174.68 333.84 L175.08 333.84 L175.48 333.84 L175.88 333.84 L176.28 333.84 L176.69 333.84 L177.09 333.84 L177.49 333.84 L177.89 333.84 L178.29 333.84 L178.69 333.84 L179.09 333.84 L179.49 333.85 L179.89 333.85 L180.29 333.85 L180.70 333.86 L181.10 333.88 L181.50 333.92 L181.90 333.98 L182.30 334.07 L182.70 334.21 L183.10 334.39 L183.50 334.61 L183.90 334.85 L184.30 335.06 L184.71 335.22 L185.11 335.30 L185.51 335.28 L185.91 335.17 L186.31 335.01 L186.71 334.84 L187.11 334.74 L187.51 334.74 L187.91 334.87 L188.31 335.09 L188.72 335.36 L189.12 335.56 L189.52 335.62 L189.92 335.51 L190.32 335.24 L190.72 334.90 L191.12 334.56 L191.52 334.29 L191.92 334.09 L192.32 333.98 L192.73 333.92 L193.13 333.89 L193.53 333.88 L193.93 333.87 L194.33 333.87 L194.73 333.87 L195.13 333.86 L195.53 333.86 L195.93 333.85 L196.33 333.84 L196.74 333.81 L197.14 333.78 L197.54 333.73 L197.94 333.66 L198.34 333.56 L198.74 333.42 L199.14 333.22 L199.54 332.95 L199.94 332.59 L200.34 332.10 L200.75 331.46 L201.15 330.64 L201.55 329.59 L201.95 328.28 L202.35 326.67 L202.75 324.70 L203.15 322.36 L203.55 319.60 L203.95 316.42 L204.35 312.80 L204.76 308.77 L205.16 304.36 L205.56 299.62 L205.96 294.64 L206.36 289.53 L206.76 284.41 L207.16 279.41 L207.56 274.69 L207.96 270.40 L208.36 266.69 L208.77 263.69 L209.17 261.51 L209.57 260.23 L209.97 259.91 L210.37 260.56 L210.77 262.15 L211.17 264.63 L211.57 267.89 L211.97 271.81 L212.37 276.27 L212.78 281.10 L213.18 286.15 L213.58 291.29 L213.98 296.36 L214.38 301.26 L214.78 305.88 L215.18 310.15 L215.58 314.02 L215.98 317.44 L216.38 320.41 L216.79 322.93 L217.19 325.01 L217.59 326.66 L217.99 327.90 L218.39 328.75 L218.79 329.22 L219.19 329.32 L219.59 329.05 L219.99 328.41 L220.39 327.36 L220.80 325.91 L221.20 324.01 L221.60 321.64 L222.00 318.80 L222.40 315.47 L222.80 311.66 L223.20 307.40 L223.60 302.74 L224.00 297.74 L224.40 292.52 L224.81 287.19 L225.21 281.90 L225.61 276.81 L226.01 272.08 L226.41 267.89 L226.81 264.39 L227.21 261.71 L227.61 259.96 L228.01 259.22 L228.41 259.52 L228.82 260.84 L229.22 263.12 L229.62 266.29 L230.02 270.20 L230.42 274.72 L230.82 279.67 L231.22 284.90 L231.62 290.24 L232.02 295.53 L232.42 300.65 L232.83 305.49 L233.23 309.95 L233.63 313.99 L234.03 317.58 L234.43 320.69 L234.83 323.35 L235.23 325.56 L235.63 327.36 L236.03 328.78 L236.43 329.85 L236.84 330.60 L237.24 331.04 L237.64 331.19 L238.04 331.05 L238.44 330.59 L238.84 329.79 L239.24 328.62 L239.64 327.02 L240.04 324.96 L240.44 322.38 L240.85 319.24 L241.25 315.52 L241.65 311.21 L242.05 306.36 L242.45 301.01 L242.85 295.27 L243.25 289.28 L243.65 283.23 L244.05 277.30 L244.45 271.74 L244.86 266.76 L245.26 262.58 L245.66 259.41 L246.06 257.38 L246.46 256.61 L246.86 257.12 L247.26 258.90 L247.66 261.85 L248.06 265.84 L248.46 270.67 L248.87 276.14 L249.27 282.01 L249.67 288.06 L250.07 294.08 L250.47 299.89 L250.87 305.33 L251.27 310.31 L251.67 314.74 L252.07 318.59 L252.47 321.86 L252.88 324.58 L253.28 326.77 L253.68 328.52 L254.08 329.88 L254.48 330.92 L254.88 331.67 L255.28 332.15 L255.68 332.35 L256.08 332.29 L256.48 332.05 L256.89 331.72 L257.29 331.46 L257.69 331.38 L258.09 331.56 L258.49 331.94 L258.89 332.44 L259.29 332.94 L259.69 333.36 L260.09 333.65 L260.49 333.83 L260.90 333.92 L261.30 333.97 L261.70 333.99 L262.10 334.00 L262.50 334.00 L262.90 334.00 L262.90 337.30 Z" fill="#FA7F6F"/>
<path d="M80.00 361.80 L80.00 360.79 L80.40 360.64 L80.80 360.33 L81.20 359.75 L81.60 358.78 L82.00 357.33 L82.40 355.44 L82.80 353.28 L83.21 351.22 L83.61 349.69 L84.01 349.03 L84.41 349.37 L84.81 350.53 L85.21 352.11 L85.61 353.59 L86.01 354.56 L86.41 354.74 L86.81 354.04 L87.21 352.55 L87.61 350.49 L88.01 348.09 L88.41 345.59 L88.82 343.12 L89.22 340.64 L89.62 338.04 L90.02 335.16 L90.42 331.89 L90.82 328.24 L91.22 324.31 L91.62 320.24 L92.02 316.22 L92.42 312.42 L92.82 308.99 L93.22 306.08 L93.62 303.80 L94.02 302.24 L94.43 301.47 L94.83 301.53 L95.23 302.39 L95.63 304.04 L96.03 306.40 L96.43 309.38 L96.83 312.86 L97.23 316.70 L97.63 320.78 L98.03 324.95 L98.43 329.08 L98.83 333.05 L99.23 336.76 L99.63 340.13 L100.04 343.07 L100.44 345.54 L100.84 347.50 L101.24 348.92 L101.64 349.80 L102.04 350.12 L102.44 349.89 L102.84 349.12 L103.24 347.82 L103.64 346.01 L104.04 343.74 L104.44 341.04 L104.84 337.97 L105.24 334.61 L105.64 331.05 L106.05 327.38 L106.45 323.72 L106.85 320.20 L107.25 316.92 L107.65 314.03 L108.05 311.63 L108.45 309.80 L108.85 308.64 L109.25 308.19 L109.65 308.47 L110.05 309.46 L110.45 311.12 L110.85 313.39 L111.25 316.17 L111.66 319.35 L112.06 322.81 L112.46 326.43 L112.86 330.08 L113.26 333.65 L113.66 337.03 L114.06 340.12 L114.46 342.84 L114.86 345.14 L115.26 346.96 L115.66 348.28 L116.06 349.05 L116.46 349.27 L116.86 348.94 L117.27 348.06 L117.67 346.63 L118.07 344.70 L118.47 342.29 L118.87 339.44 L119.27 336.24 L119.67 332.76 L120.07 329.08 L120.47 325.33 L120.87 321.63 L121.27 318.09 L121.67 314.85 L122.07 312.04 L122.47 309.75 L122.88 308.10 L123.28 307.13 L123.68 306.91 L124.08 307.43 L124.48 308.67 L124.88 310.59 L125.28 313.11 L125.68 316.14 L126.08 319.55 L126.48 323.22 L126.88 327.03 L127.28 330.86 L127.68 334.56 L128.08 338.01 L128.48 341.05 L128.89 343.52 L129.29 345.29 L129.69 346.24 L130.09 346.41 L130.49 345.94 L130.89 345.17 L131.29 344.53 L131.69 344.46 L132.09 345.23 L132.49 346.89 L132.89 349.22 L133.29 351.85 L133.69 354.42 L134.09 356.61 L134.50 358.28 L134.90 359.44 L135.30 360.16 L135.70 360.56 L136.10 360.73 L136.50 360.72 L136.90 360.52 L137.30 360.11 L137.70 359.45 L138.10 358.57 L138.50 357.61 L138.90 356.76 L139.30 356.26 L139.70 356.27 L140.11 356.78 L140.51 357.64 L140.91 358.61 L141.31 359.49 L141.71 360.15 L142.11 360.59 L142.51 360.83 L142.91 360.95 L143.31 361.00 L143.71 360.99 L144.11 360.95 L144.51 360.86 L144.91 360.73 L145.31 360.57 L145.71 360.40 L146.12 360.27 L146.52 360.20 L146.92 360.23 L147.32 360.34 L147.72 360.50 L148.12 360.68 L148.52 360.82 L148.92 360.93 L149.32 361.00 L149.72 361.03 L150.12 361.05 L150.52 361.06 L150.92 361.06 L151.32 361.07 L151.73 361.07 L152.13 361.07 L152.53 361.07 L152.93 361.07 L153.33 361.07 L153.73 361.07 L154.13 361.07 L154.53 361.07 L154.93 361.07 L155.33 361.08 L155.73 361.08 L156.13 361.08 L156.53 361.08 L156.93 361.08 L157.34 361.08 L157.74 361.08 L158.14 361.08 L158.54 361.08 L158.94 361.08 L159.34 361.09 L159.74 361.09 L160.14 361.09 L160.54 361.09 L160.94 361.09 L161.34 361.09 L161.74 361.09 L162.14 361.09 L162.54 361.09 L162.95 361.09 L163.35 361.09 L163.75 361.10 L164.15 361.10 L164.55 361.10 L164.95 361.10 L165.35 361.10 L165.75 361.10 L166.15 361.10 L166.55 361.10 L166.95 361.10 L167.35 361.10 L167.75 361.10 L168.15 361.11 L168.55 361.11 L168.96 361.11 L169.36 361.11 L169.76 361.11 L170.16 361.11 L170.56 361.11 L170.96 361.11 L171.36 361.11 L171.76 361.11 L172.16 361.11 L172.56 361.12 L172.96 361.12 L173.36 361.12 L173.76 361.12 L174.16 361.12 L174.57 361.12 L174.97 361.12 L175.37 361.11 L175.77 361.09 L176.17 361.06 L176.57 361.01 L176.97 360.91 L177.37 360.78 L177.77 360.59 L178.17 360.35 L178.57 360.09 L178.97 359.83 L179.37 359.63 L179.77 359.50 L180.18 359.49 L180.58 359.58 L180.98 359.76 L181.38 359.97 L181.78 360.19 L182.18 360.34 L182.58 360.39 L182.98 360.30 L183.38 360.03 L183.78 359.54 L184.18 358.81 L184.58 357.86 L184.98 356.74 L185.38 355.54 L185.79 354.34 L186.19 353.18 L186.59 352.04 L186.99 350.78 L187.39 349.27 L187.79 347.35 L188.19 344.90 L188.59 341.90 L188.99 338.34 L189.39 334.26 L189.79 329.74 L190.19 324.85 L190.59 319.69 L190.99 314.37 L191.39 309.02 L191.80 303.77 L192.20 298.77 L192.60 294.16 L193.00 290.10 L193.40 286.73 L193.80 284.15 L194.20 282.46 L194.60 281.73 L195.00 281.98 L195.40 283.20 L195.80 285.34 L196.20 288.34 L196.60 292.08 L197.00 296.43 L197.41 301.25 L197.81 306.40 L198.21 311.72 L198.61 317.07 L199.01 322.33 L199.41 327.37 L199.81 332.11 L200.21 336.48 L200.61 340.44 L201.01 343.94 L201.41 346.99 L201.81 349.58 L202.21 351.72 L202.61 353.43 L203.02 354.74 L203.42 355.66 L203.82 356.20 L204.22 356.38 L204.62 356.20 L205.02 355.66 L205.42 354.74 L205.82 353.42 L206.22 351.69 L206.62 349.52 L207.02 346.90 L207.42 343.80 L207.82 340.22 L208.22 336.17 L208.62 331.69 L209.03 326.80 L209.43 321.59 L209.83 316.15 L210.23 310.58 L210.63 305.02 L211.03 299.62 L211.43 294.53 L211.83 289.90 L212.23 285.90 L212.63 282.64 L213.03 280.26 L213.43 278.83 L213.83 278.40 L214.23 279.00 L214.64 280.60 L215.04 283.14 L215.44 286.54 L215.84 290.66 L216.24 295.38 L216.64 300.54 L217.04 305.98 L217.44 311.55 L217.84 317.11 L218.24 322.53 L218.64 327.70 L219.04 332.53 L219.44 336.96 L219.84 340.95 L220.25 344.47 L220.65 347.53 L221.05 350.13 L221.45 352.30 L221.85 354.05 L222.25 355.42 L222.65 356.43 L223.05 357.12 L223.45 357.48 L223.85 357.55 L224.25 357.31 L224.65 356.75 L225.05 355.87 L225.45 354.65 L225.86 353.05 L226.26 351.04 L226.66 348.60 L227.06 345.70 L227.46 342.33 L227.86 338.48 L228.26 334.17 L228.66 329.42 L229.06 324.29 L229.46 318.86 L229.86 313.23 L230.26 307.52 L230.66 301.86 L231.06 296.42 L231.46 291.35 L231.87 286.81 L232.27 282.96 L232.67 279.92 L233.07 277.80 L233.47 276.67 L233.87 276.59 L234.27 277.56 L234.67 279.53 L235.07 282.43 L235.47 286.17 L235.87 290.62 L236.27 295.62 L236.67 301.01 L237.07 306.65 L237.48 312.36 L237.88 318.02 L238.28 323.49 L238.68 328.68 L239.08 333.50 L239.48 337.90 L239.88 341.84 L240.28 345.31 L240.68 348.31 L241.08 350.83 L241.48 352.90 L241.88 354.50 L242.28 355.64 L242.68 356.29 L243.09 356.46 L243.49 356.18 L243.89 355.52 L244.29 354.65 L244.69 353.76 L245.09 353.09 L245.49 352.82 L245.89 353.08 L246.29 353.83 L246.69 354.96 L247.09 356.28 L247.49 357.59 L247.89 358.74 L248.29 359.66 L248.70 360.32 L249.10 360.75 L249.50 361.01 L249.90 361.16 L250.30 361.24 L250.70 361.27 L251.10 361.29 L251.50 361.30 L251.50 362.20 Z" fill="#FFBE7A"/>
<path d="M54.80 389.50 L54.80 389.50 L55.40 381.80 L58.00 387.00 L60.00 386.40 L62.60 376.60 L64.50 363.60 L66.00 356.50 L67.80 351.30 L69.40 348.80 L71.00 347.80 L72.60 348.60 L74.30 350.60 L77.50 356.50 L79.50 358.80 L81.40 360.00 L83.40 359.20 L85.30 357.10 L89.90 350.00 L93.80 345.40 L96.40 344.40 L97.80 345.20 L99.00 347.40 L101.60 355.80 L104.20 367.50 L106.80 381.80 L108.30 387.70 L110.50 385.50 L112.80 382.90 L115.00 385.00 L117.40 388.10 L119.50 385.50 L121.30 383.40 L124.50 383.80 L127.80 389.00 L130.50 386.50 L133.00 384.40 L136.50 386.50 L140.80 389.40 L144.00 389.00 L148.60 386.40 L151.00 386.80 L153.80 389.00 L156.40 384.40 L159.00 376.60 L160.40 375.00 L161.60 374.70 L163.50 379.20 L165.50 381.60 L167.10 372.00 L169.50 358.90 L172.20 337.10 L174.30 322.70 L175.10 319.20 L175.70 318.10 L176.40 319.40 L177.40 322.70 L180.50 345.40 L183.10 362.90 L185.00 381.50 L186.60 388.70 L188.30 381.50 L190.80 361.90 L193.90 335.00 L195.90 319.60 L196.50 316.50 L197.00 315.50 L197.60 316.60 L198.40 319.60 L201.10 341.20 L204.20 361.90 L206.60 381.50 L208.30 388.70 L209.90 381.50 L212.80 361.90 L216.50 333.90 L218.60 319.60 L219.20 317.00 L219.60 316.10 L220.20 317.00 L221.10 319.60 L223.80 341.20 L226.90 366.00 L229.30 380.40 L231.00 384.50 L232.60 379.40 L234.10 377.30 L235.50 379.40 L237.20 386.60 L237.70 390.90 L237.70 390.90 Z" fill="#8ECFC9"/>
<g fill="none" stroke="#262626" stroke-width="0.9">
<path d="M38.50 312.30 L38.50 405.90 L229.60 407.20 L278.80 305.10 M38.50 405.90 h-3.3 M38.50 396.54 h-1.6 M38.50 387.18 h-3.3 M38.50 377.82 h-1.6 M38.50 368.46 h-3.3 M38.50 359.10 h-1.6 M38.50 349.74 h-3.3 M38.50 340.38 h-1.6 M38.50 331.02 h-3.3 M38.50 321.66 h-1.6 M38.50 312.30 h-3.3 M108.00 406.37 v2.6 M154.00 406.69 v2.6 M225.30 407.17 v2.6 M131.20 406.53 v1.4 M190.40 406.93 v1.4 M237.80 391.10 h2.6 M251.60 362.30 h2.6 M263.00 337.30 h2.6 M274.00 315.20 h2.6 M245.00 377.50 h1.4 M257.60 350.60 h1.4 M268.80 327.05 h1.4 "/>
</g>
<text x="27.95" y="409.10" font-size="9.40" fill="#2a2a2a" stroke="#2a2a2a" stroke-width="0.15">0</text>
<text x="23.60 27.95" y="390.38" font-size="9.40" fill="#2a2a2a" stroke="#2a2a2a" stroke-width="0.15">50</text>
<text x="19.25 23.60 27.95" y="371.66" font-size="9.40" fill="#2a2a2a" stroke="#2a2a2a" stroke-width="0.15">100</text>
<text x="19.25 23.60 27.95" y="352.94" font-size="9.40" fill="#2a2a2a" stroke="#2a2a2a" stroke-width="0.15">150</text>
<text x="19.25 23.60 27.95" y="334.22" font-size="9.40" fill="#2a2a2a" stroke="#2a2a2a" stroke-width="0.15">200</text>
<text x="19.25 23.60 27.95" y="315.50" font-size="9.40" fill="#2a2a2a" stroke="#2a2a2a" stroke-width="0.15">250</text>
<text x="103.20 108.20" y="421.60" font-size="10.00" fill="#2a2a2a" stroke="#2a2a2a" stroke-width="0.15">30</text>
<text x="149.20 154.20" y="421.60" font-size="10.00" fill="#2a2a2a" stroke="#2a2a2a" stroke-width="0.15">50</text>
<text x="220.50 225.50" y="421.60" font-size="10.00" fill="#2a2a2a" stroke="#2a2a2a" stroke-width="0.15">80</text>
<text x="246.40" y="396.20" font-size="10.5" text-anchor="middle" fill="#2a2a2a">a</text>
<text x="258.70" y="366.90" font-size="10.5" text-anchor="middle" fill="#2a2a2a">b</text>
<text x="270.20" y="341.70" font-size="10.5" text-anchor="middle" fill="#2a2a2a">c</text>
<text x="280.70" y="319.20" font-size="10.5" text-anchor="middle" fill="#2a2a2a">d</text>
<g transform="translate(133.7 434.3)"><text transform="scale(1.100 1)" x="-28.00" y="0" font-size="15.40" fill="#1a1a1a" stroke="#1a1a1a" stroke-width="0.15" textLength="56.00" lengthAdjust="spacing">Position</text></g>
<g transform="translate(15.8 363.4) rotate(-90)"><text transform="scale(1.060 1)" x="-29.01" y="0" font-size="14.00" fill="#1a1a1a" stroke="#1a1a1a" stroke-width="0.12" textLength="58.02" lengthAdjust="spacing">Intensity</text></g>
<g transform="translate(280.5 354.0) rotate(-62)"><text transform="scale(1.000 1)" x="-36.75" y="0" font-size="11.50" fill="#1a1a1a" stroke="#1a1a1a" stroke-width="0.15" textLength="73.50" lengthAdjust="spacing">Sampling mode</text></g>
<text x="132.6" y="454.4" font-size="15" font-weight="bold" fill="#000" text-anchor="middle">(e)</text>
</g>
<g>
<rect x="354.00" y="268.41" width="25.4" height="129.09" fill="#8ECFC9"/>
<rect x="404.90" y="250.25" width="25.4" height="147.25" fill="#FFBE7A"/>
<rect x="455.70" y="246.39" width="25.4" height="151.11" fill="#FA7F6F"/>
<rect x="506.30" y="314.80" width="25.4" height="82.70" fill="#82B0D2"/>
<g stroke="#333" stroke-width="0.9" fill="none">
<path d="M341.50 233.50 V397.50 H544.50"/>
<path d="M341.50 397.50 h-3.3 M341.50 385.79 h-1.6 M341.50 374.07 h-3.3 M341.50 362.36 h-1.6 M341.50 350.64 h-3.3 M341.50 338.93 h-1.6 M341.50 327.21 h-3.3 M341.50 315.50 h-1.6 M341.50 303.79 h-3.3 M341.50 292.07 h-1.6 M341.50 280.36 h-3.3 M341.50 268.64 h-1.6 M341.50 256.93 h-3.3 M341.50 245.21 h-1.6 M341.50 233.50 h-3.3 M366.70 397.50 v3.3 M392.10 397.50 v1.6 M417.60 397.50 v3.3 M443.00 397.50 v1.6 M468.40 397.50 v3.3 M493.80 397.50 v1.6 M519.00 397.50 v3.3 M544.40 397.50 v1.6 "/>
</g>
<text x="317.20 323.20 329.20" y="402.70" font-size="12.00" fill="#333" >0.0</text>
<text x="317.20 323.20 329.20" y="379.27" font-size="12.00" fill="#333" >0.1</text>
<text x="317.20 323.20 329.20" y="355.84" font-size="12.00" fill="#333" >0.2</text>
<text x="317.20 323.20 329.20" y="332.41" font-size="12.00" fill="#333" >0.3</text>
<text x="317.20 323.20 329.20" y="308.99" font-size="12.00" fill="#333" >0.4</text>
<text x="317.20 323.20 329.20" y="285.56" font-size="12.00" fill="#333" >0.5</text>
<text x="317.20 323.20 329.20" y="262.13" font-size="12.00" fill="#333" >0.6</text>
<text x="317.20 323.20 329.20" y="238.70" font-size="12.00" fill="#333" >0.7</text>
<text x="366.70" y="412.3" font-size="11" font-weight="bold" text-anchor="middle" fill="#2a2a2a">a</text>
<text x="417.60" y="412.3" font-size="11" font-weight="bold" text-anchor="middle" fill="#2a2a2a">b</text>
<text x="468.40" y="412.3" font-size="11" font-weight="bold" text-anchor="middle" fill="#2a2a2a">c</text>
<text x="519.00" y="412.3" font-size="11" font-weight="bold" text-anchor="middle" fill="#2a2a2a">d</text>
<text x="404.6" y="426.3" font-size="11.6" fill="#2a2a2a" textLength="72.5" lengthAdjust="spacing">Sampling mode</text>
<text transform="translate(316.4 315.6) rotate(-90) scale(0.66 1)" font-size="18.6" text-anchor="middle" fill="#222">K</text>
<text x="429.3" y="450.2" font-size="15" font-weight="bold" fill="#000" text-anchor="middle">(f)</text>
</g>
</svg>
</body></html>
